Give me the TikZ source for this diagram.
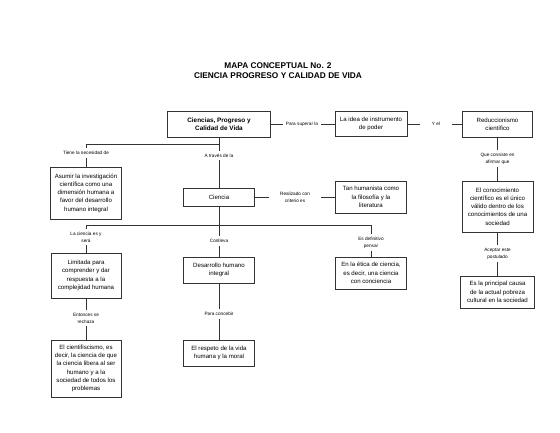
\documentclass[tikz,border=0pt]{standalone}
\usepackage{fontspec}
\setmainfont{Liberation Sans}

\tikzset{
  concepto/.style={draw=black!80, line width=0.7pt, align=center, inner sep=1pt,
    minimum width=71pt, font=\fontsize{6.1}{8.3}\selectfont},
  enlace/.style={align=center, inner sep=3pt, font=\fontsize{4.7}{7}\selectfont},
  linea/.style={draw=black!80, line width=0.7pt}
}

\begin{document}
\begin{tikzpicture}[x=1pt,y=-1pt]
\useasboundingbox (0,0) rectangle (560,433);

% titulo
\node[align=center, font=\bfseries\fontsize{8.3}{10}\selectfont] (titulo) at (278,71)
  {MAPA CONCEPTUAL No. 2\\CIENCIA PROGRESO Y CALIDAD DE VIDA};

% conceptos
\node[concepto, minimum width=103pt, minimum height=26pt, font=\bfseries\fontsize{6.4}{8.4}\selectfont]
  (ccpv) at (219,124) {Ciencias, Progreso y\\Calidad de Vida};
\node[concepto, minimum width=72pt, minimum height=25pt] (idea) at (371,124) {La idea de instrumento\\de poder};
\node[concepto, minimum width=70pt, minimum height=26pt] (reduc) at (497.5,124) {Reduccionismo\\científico};

\node[concepto, minimum height=52pt] (asumir) at (86,193)
  {Asumir la investigación\\científica como una\\dimensión humana a\\favor del desarrollo\\humano integral};
\node[concepto, minimum height=18pt] (ciencia) at (219,197) {Ciencia};
\node[concepto, minimum height=32pt] (tan) at (371,197) {Tan humanista como\\la filosofía y la\\literatura};
\node[concepto, minimum height=51pt] (conoc) at (497.5,206.5)
  {El conocimiento\\científico es el único\\válido dentro de los\\conocimientos de una\\sociedad};

\node[concepto, minimum width=70pt, minimum height=45pt] (limitada) at (86,275.5)
  {Limitada para\\comprender y dar\\respuesta a la\\complejidad humana};
\node[concepto, minimum height=26pt] (desarrollo) at (219,270) {Desarrollo humano\\integral};
\node[concepto, minimum height=32pt] (etica) at (371,273)
  {En la ética de ciencia,\\es decir, una ciencia\\con conciencia};
\node[concepto, minimum width=74pt, minimum height=32pt] (principal) at (497.5,292)
  {Es la principal causa\\de la actual pobreza\\cultural en la sociedad};

\node[concepto, minimum width=70pt, minimum height=57pt] (cientif) at (86,368.5)
  {El cientifiscismo, es\\decir, la ciencia de que\\la ciencia libera al ser\\humano y a la\\sociedad de todos los\\problemas};
\node[concepto, minimum height=26pt] (respeto) at (219,353) {El respeto de la vida\\humana y la moral};

% enlaces
\node[enlace] (parasup) at (302,124) {Para superar la};
\node[enlace, inner xsep=12pt] (yel) at (436,124) {Y el};
\node[enlace] (tiene) at (86,153) {Tiene la necesidad de};
\node[enlace] (atraves) at (219,155.5) {A través de la};
\node[enlace, inner xsep=11pt] (realizado) at (295,197) {Realizado con\\criterio es};
\node[enlace] (queconsiste) at (497.5,158.5) {Que consiste en\\afirmar que};
\node[enlace] (lacien) at (86,237) {La ciencia es y\\será};
\node[enlace] (conlleva) at (219,241) {Conlleva};
\node[enlace] (esdef) at (371,242.5) {Es definitivo\\pensar};
\node[enlace] (aceptar) at (497.5,253.5) {Aceptar este\\postulado};
\node[enlace] (entonces) at (86,318) {Entonces se\\rechaza};
\node[enlace] (paracon) at (219,314) {Para concebir};

\coordinate (j1) at (219,144);
\coordinate (j2) at (219,225);

% lineas
\draw[linea] (ccpv) -- (parasup) -- (idea);
\draw[linea] (idea) -- (yel) -- (reduc);
\draw[linea] (reduc) -- (queconsiste) -- (conoc) -- (aceptar) -- (principal);
\draw[linea] (ccpv) -- (atraves) -- (ciencia);
\draw[linea] (j1) -| (tiene);
\draw[linea] (tiene) -- (asumir);
\draw[linea] (ciencia) -- (realizado) -- (tan);
\draw[linea] (ciencia) -- (conlleva) -- (desarrollo) -- (paracon) -- (respeto);
\draw[linea] (j2) -| (lacien);
\draw[linea] (j2) -| (esdef);
\draw[linea] (lacien) -- (limitada) -- (entonces) -- (cientif);
\draw[linea] (esdef) -- (etica);

\end{tikzpicture}
\end{document}
